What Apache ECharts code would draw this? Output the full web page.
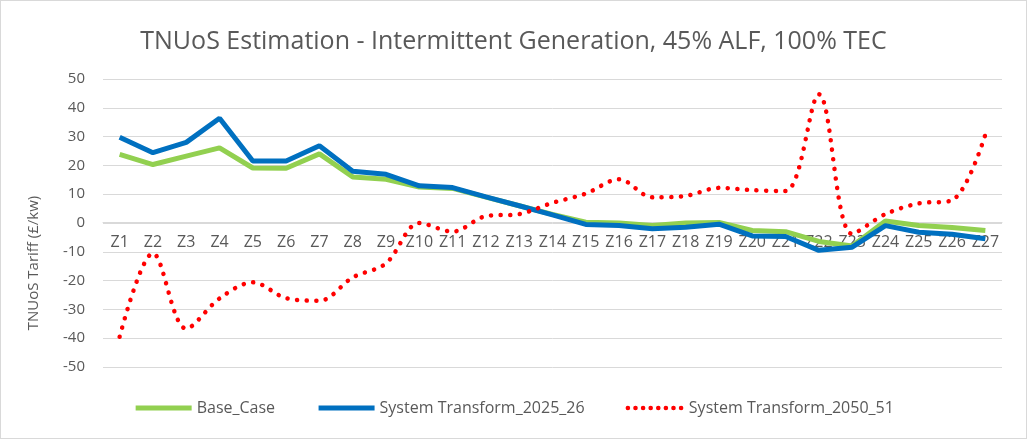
<!DOCTYPE html>
<html>
<head>
    <meta charset="UTF-8">
    <title>TNUoS Estimation</title>
    <script src="https://cdn.jsdelivr.net/npm/echarts@6/dist/echarts.min.js"></script>
    <style>
        html, body { margin: 0; padding: 0; background: #fff; }
        #chart { width: 1027px; height: 439px; box-sizing: border-box; border: 1px solid #d9d9d9; }
    </style>
</head>
<body>
    <div id="chart"></div>

    <script type="text/javascript">
        // zones Z1..Z27
        var zones = ['Z1','Z2','Z3','Z4','Z5','Z6','Z7','Z8','Z9','Z10','Z11','Z12','Z13','Z14',
                     'Z15','Z16','Z17','Z18','Z19','Z20','Z21','Z22','Z23','Z24','Z25','Z26','Z27'];

        var baseCase = [23.8, 20.3, 23.2, 26.1, 19.1, 19.0, 24.0, 16.0, 15.2, 12.5, 12.0, 9.0,
                        6.0, 3.0, 0.3, 0.0, -0.9, 0.0, 0.2, -2.6, -3.0, -6.4, -8.0, 0.7, -0.9, -1.6, -2.6];

        var st2025 = [29.8, 24.4, 28.0, 36.4, 21.5, 21.5, 26.8, 18.0, 16.9, 12.9, 12.3, 9.1,
                      6.0, 2.8, -0.5, -0.9, -2.0, -1.5, -0.4, -4.5, -4.7, -9.5, -8.4, -0.9, -3.2, -3.9, -5.5];

        var st2050 = [-39.5, -10.5, -36.7, -26.2, -20.6, -26.1, -27.0, -18.9, -14.0, 0.0, -3.0, 2.4,
                      3.1, 7.0, 10.2, 15.2, 8.9, 9.4, 12.2, 11.4, 11.1, 44.7, -3.8, 3.1, 6.8, 7.9, 30.7];

        var textColor = '#595959';
        var fontName = 'Open Sans';

        var myChart = echarts.init(document.getElementById('chart'));

        var option = {
            backgroundColor: '#fff',
            title: {
                text: 'TNUoS Estimation - Intermittent Generation, 45% ALF, 100% TEC',
                left: 'center',
                top: 23,
                textStyle: { color: textColor, fontSize: 25, fontWeight: 'normal', fontFamily: fontName }
            },
            legend: {
                bottom: 17,
                left: 'center',
                itemWidth: 56,
                itemHeight: 10,
                itemGap: 41,
                itemStyle: { opacity: 0 },
                textStyle: { color: textColor, fontSize: 16, fontFamily: fontName },
                data: [
                    { name: 'Base_Case', lineStyle: { width: 5 } },
                    { name: 'System Transform_2025_26', lineStyle: { width: 5 } },
                    { name: 'System Transform_2050_51', lineStyle: { width: 4.5, type: [0.1, 7.5], cap: 'round' } }
                ]
            },
            grid: { left: 102, right: 24, top: 78, bottom: 71 },
            xAxis: {
                type: 'category',
                data: zones,
                boundaryGap: true,
                offset: -145, // sits on the zero line
                axisLine: { onZero: false, lineStyle: { color: '#d9d9d9', width: 1 } },
                axisTick: { show: false },
                axisLabel: { color: textColor, fontSize: 16, fontFamily: fontName, interval: 0, margin: 12 }
            },
            yAxis: {
                type: 'value',
                min: -50,
                max: 50,
                interval: 10,
                name: 'TNUoS Tariff (£/kw)',
                nameLocation: 'middle',
                nameGap: 62,
                nameTextStyle: { color: textColor, fontSize: 15, fontFamily: fontName, padding: [0, 80, 0, 0] },
                axisLine: { show: false },
                axisTick: { show: false },
                axisLabel: { color: textColor, fontSize: 15, fontFamily: fontName, margin: 18 },
                splitLine: { lineStyle: { color: '#d9d9d9', width: 1 } }
            },
            series: [
                {
                    name: 'Base_Case',
                    type: 'line',
                    data: baseCase,
                    symbol: 'none',
                    color: '#92d050',
                    lineStyle: { width: 5, color: '#92d050' },
                    z: 2
                },
                {
                    name: 'System Transform_2025_26',
                    type: 'line',
                    data: st2025,
                    symbol: 'none',
                    color: '#0070c0',
                    lineStyle: { width: 5, color: '#0070c0' },
                    z: 3
                },
                {
                    name: 'System Transform_2050_51',
                    type: 'line',
                    data: st2050,
                    symbol: 'none',
                    smooth: 0.33,
                    color: '#ff0000',
                    lineStyle: { width: 4.5, color: '#ff0000', type: [0.1, 9.5], cap: 'round' },
                    z: 4
                }
            ]
        };

        myChart.setOption(option);
    </script>
</body>
</html>
